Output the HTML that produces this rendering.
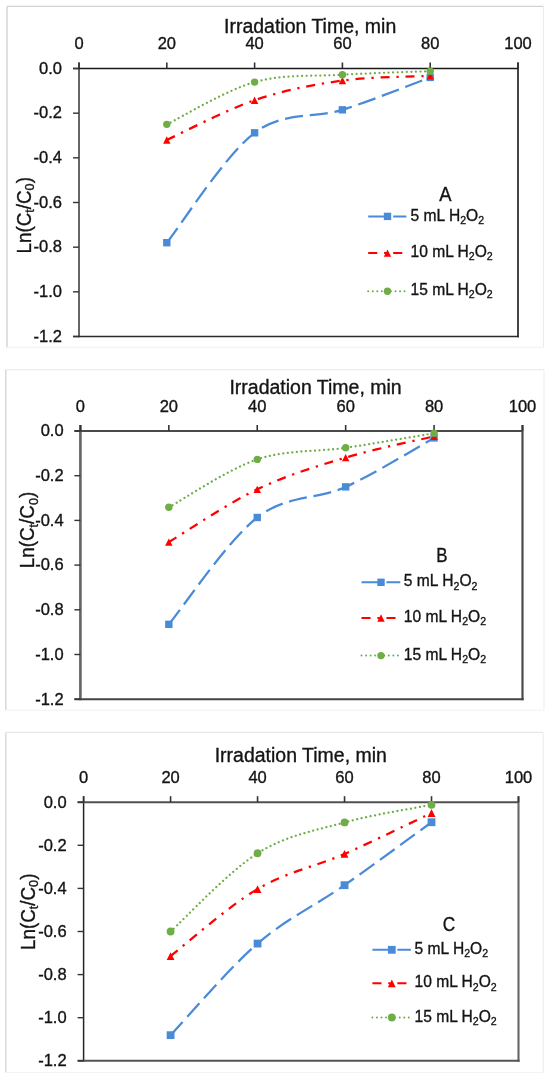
<!DOCTYPE html>
<html><head><meta charset="utf-8"><title>Irradiation time plots</title>
<style>
html,body{margin:0;padding:0;background:#fff;}
body{width:550px;height:1082px;overflow:hidden;}
svg{display:block;}
text{font-family:"Liberation Sans", Arial, sans-serif;fill:#141414;stroke:#141414;stroke-width:0.35px;}
</style></head><body>
<svg width="550" height="1082" viewBox="0 0 550 1082">
<rect width="550" height="1082" fill="#fff"/>
<line x1="7.00" y1="6.40" x2="543.50" y2="6.40" stroke="#d2d2d2" stroke-width="1.1"/>
<line x1="7.00" y1="6.40" x2="7.00" y2="347.40" stroke="#cfcfcf" stroke-width="1.3"/>
<line x1="543.50" y1="6.40" x2="543.50" y2="347.40" stroke="#ececec" stroke-width="1.1"/>
<line x1="7.00" y1="347.40" x2="543.50" y2="347.40" stroke="#f2f2f2" stroke-width="1.1"/>
<line x1="79.00" y1="62.50" x2="79.00" y2="337.30" stroke="#666" stroke-width="2.00"/>
<line x1="518.00" y1="62.50" x2="518.00" y2="337.30" stroke="#444" stroke-width="2.00"/>
<line x1="73.00" y1="336.50" x2="519.00" y2="336.50" stroke="#2a2a2a" stroke-width="1.60"/>
<line x1="73.00" y1="68.50" x2="518.00" y2="68.50" stroke="#1a1a1a" stroke-width="1.30"/>
<line x1="79.00" y1="62.50" x2="79.00" y2="68.50" stroke="#333" stroke-width="1.6"/>
<line x1="166.80" y1="62.50" x2="166.80" y2="68.50" stroke="#333" stroke-width="1.6"/>
<line x1="254.60" y1="62.50" x2="254.60" y2="68.50" stroke="#333" stroke-width="1.6"/>
<line x1="342.40" y1="62.50" x2="342.40" y2="68.50" stroke="#333" stroke-width="1.6"/>
<line x1="430.20" y1="62.50" x2="430.20" y2="68.50" stroke="#333" stroke-width="1.6"/>
<line x1="518.00" y1="62.50" x2="518.00" y2="68.50" stroke="#333" stroke-width="1.6"/>
<line x1="73.00" y1="68.50" x2="79.00" y2="68.50" stroke="#333" stroke-width="1.4"/>
<line x1="73.00" y1="113.17" x2="79.00" y2="113.17" stroke="#333" stroke-width="1.4"/>
<line x1="73.00" y1="157.83" x2="79.00" y2="157.83" stroke="#333" stroke-width="1.4"/>
<line x1="73.00" y1="202.50" x2="79.00" y2="202.50" stroke="#333" stroke-width="1.4"/>
<line x1="73.00" y1="247.17" x2="79.00" y2="247.17" stroke="#333" stroke-width="1.4"/>
<line x1="73.00" y1="291.83" x2="79.00" y2="291.83" stroke="#333" stroke-width="1.4"/>
<line x1="73.00" y1="336.50" x2="79.00" y2="336.50" stroke="#333" stroke-width="1.4"/>
<text transform="translate(79.00,48.70)" font-size="16.50" text-anchor="middle">0</text>
<text transform="translate(166.80,48.70)" font-size="16.50" text-anchor="middle">20</text>
<text transform="translate(254.60,48.70)" font-size="16.50" text-anchor="middle">40</text>
<text transform="translate(342.40,48.70)" font-size="16.50" text-anchor="middle">60</text>
<text transform="translate(430.20,48.70)" font-size="16.50" text-anchor="middle">80</text>
<text transform="translate(518.00,48.70)" font-size="16.50" text-anchor="middle">100</text>
<text transform="translate(62.00,73.80)" font-size="16.50" text-anchor="end">0.0</text>
<text transform="translate(62.00,118.47)" font-size="16.50" text-anchor="end">-0.2</text>
<text transform="translate(62.00,163.13)" font-size="16.50" text-anchor="end">-0.4</text>
<text transform="translate(62.00,207.80)" font-size="16.50" text-anchor="end">-0.6</text>
<text transform="translate(62.00,252.47)" font-size="16.50" text-anchor="end">-0.8</text>
<text transform="translate(62.00,297.13)" font-size="16.50" text-anchor="end">-1.0</text>
<text transform="translate(62.00,341.80)" font-size="16.50" text-anchor="end">-1.2</text>
<text transform="translate(224.00,32.60) scale(0.9850,1)" font-size="19.80">Irradation Time, min</text>
<text transform="translate(30.60,253.50) rotate(-90) scale(0.9500,1)" font-size="19.80">Ln(C<tspan font-size="13.46" dy="3.10">t</tspan><tspan dy="-3.10">/C</tspan><tspan font-size="13.46" dy="3.10">0</tspan><tspan dy="-3.10">)</tspan></text>
<path d="M166.80,242.70 C181.43,224.39 225.33,154.97 254.60,132.82 C283.87,110.67 313.13,119.05 342.40,109.82 C371.67,100.59 415.57,82.83 430.20,77.43" fill="none" stroke="#4a8bd8" stroke-width="2.27" stroke-dasharray="18.16 6.81" stroke-linecap="butt"/>
<rect x="163.10" y="239.00" width="7.40" height="7.40" fill="#4a8bd8"/>
<rect x="250.90" y="129.12" width="7.40" height="7.40" fill="#4a8bd8"/>
<rect x="338.70" y="106.12" width="7.40" height="7.40" fill="#4a8bd8"/>
<rect x="426.50" y="73.73" width="7.40" height="7.40" fill="#4a8bd8"/>
<path d="M166.80,139.97 C181.43,133.34 225.33,110.11 254.60,100.21 C283.87,90.31 313.13,84.62 342.40,80.56 C371.67,76.50 415.57,76.65 430.20,75.87" fill="none" stroke="#ff0000" stroke-width="2.27" stroke-dasharray="9.08 6.81 2.27 6.81" stroke-linecap="butt"/>
<path d="M166.80,136.27 L170.50,143.67 L163.10,143.67 Z" fill="#ff0000"/>
<path d="M254.60,96.51 L258.30,103.91 L250.90,103.91 Z" fill="#ff0000"/>
<path d="M342.40,76.86 L346.10,84.26 L338.70,84.26 Z" fill="#ff0000"/>
<path d="M430.20,72.17 L433.90,79.57 L426.50,79.57 Z" fill="#ff0000"/>
<path d="M166.80,124.33 C181.43,117.30 225.33,90.39 254.60,82.12 C283.87,73.86 313.13,76.58 342.40,74.75 C371.67,72.93 415.57,71.78 430.20,71.18" fill="none" stroke="#6fad47" stroke-width="2.27" stroke-dasharray="0.01 4.54" stroke-linecap="round"/>
<circle cx="166.80" cy="124.33" r="3.70" fill="#6fad47"/>
<circle cx="254.60" cy="82.12" r="3.70" fill="#6fad47"/>
<circle cx="342.40" cy="74.75" r="3.70" fill="#6fad47"/>
<circle cx="430.20" cy="71.18" r="3.70" fill="#6fad47"/>
<line x1="368.20" y1="216.40" x2="406.40" y2="216.40" stroke="#4a8bd8" stroke-width="2.00" stroke-dasharray="18.16 6.81" stroke-linecap="butt"/>
<rect x="383.80" y="212.70" width="7.40" height="7.40" fill="#4a8bd8"/>
<text transform="translate(410.50,220.50) scale(0.9450,1)" font-size="16.50">5 mL H<tspan font-size="11.22" dy="3.10">2</tspan><tspan dy="-3.10">O</tspan><tspan font-size="11.22" dy="3.10">2</tspan></text>
<line x1="368.20" y1="253.10" x2="406.40" y2="253.10" stroke="#ff0000" stroke-width="2.00" stroke-dasharray="9.08 6.81 2.27 6.81" stroke-linecap="butt"/>
<path d="M387.50,249.40 L391.20,256.80 L383.80,256.80 Z" fill="#ff0000"/>
<text transform="translate(410.50,257.20) scale(0.9450,1)" font-size="16.50">10 mL H<tspan font-size="11.22" dy="3.10">2</tspan><tspan dy="-3.10">O</tspan><tspan font-size="11.22" dy="3.10">2</tspan></text>
<line x1="368.20" y1="291.20" x2="406.40" y2="291.20" stroke="#6fad47" stroke-width="2.00" stroke-dasharray="0.01 4.54" stroke-linecap="round"/>
<circle cx="387.50" cy="291.20" r="3.70" fill="#6fad47"/>
<text transform="translate(410.50,295.30) scale(0.9450,1)" font-size="16.50">15 mL H<tspan font-size="11.22" dy="3.10">2</tspan><tspan dy="-3.10">O</tspan><tspan font-size="11.22" dy="3.10">2</tspan></text>
<text transform="translate(439.30,200.60) scale(0.9300,1)" font-size="19.80">A</text>
<line x1="5.80" y1="369.80" x2="544.00" y2="369.80" stroke="#e6e6e6" stroke-width="1.1"/>
<line x1="5.80" y1="369.80" x2="5.80" y2="710.30" stroke="#d2d2d2" stroke-width="1.3"/>
<line x1="544.00" y1="369.80" x2="544.00" y2="710.30" stroke="#eeeeee" stroke-width="1.1"/>
<line x1="5.80" y1="710.30" x2="544.00" y2="710.30" stroke="#f3f3f3" stroke-width="1.1"/>
<line x1="80.40" y1="425.00" x2="80.40" y2="700.15" stroke="#646464" stroke-width="2.60"/>
<line x1="522.50" y1="425.00" x2="522.50" y2="700.15" stroke="#4a4a4a" stroke-width="2.20"/>
<line x1="74.40" y1="699.20" x2="523.60" y2="699.20" stroke="#444" stroke-width="1.90"/>
<line x1="74.40" y1="431.00" x2="522.50" y2="431.00" stroke="#4a4a4a" stroke-width="2.00"/>
<line x1="80.40" y1="425.00" x2="80.40" y2="431.00" stroke="#333" stroke-width="1.6"/>
<line x1="168.82" y1="425.00" x2="168.82" y2="431.00" stroke="#333" stroke-width="1.6"/>
<line x1="257.24" y1="425.00" x2="257.24" y2="431.00" stroke="#333" stroke-width="1.6"/>
<line x1="345.66" y1="425.00" x2="345.66" y2="431.00" stroke="#333" stroke-width="1.6"/>
<line x1="434.08" y1="425.00" x2="434.08" y2="431.00" stroke="#333" stroke-width="1.6"/>
<line x1="522.50" y1="425.00" x2="522.50" y2="431.00" stroke="#333" stroke-width="1.6"/>
<line x1="74.40" y1="431.00" x2="80.40" y2="431.00" stroke="#333" stroke-width="1.4"/>
<line x1="74.40" y1="475.70" x2="80.40" y2="475.70" stroke="#333" stroke-width="1.4"/>
<line x1="74.40" y1="520.40" x2="80.40" y2="520.40" stroke="#333" stroke-width="1.4"/>
<line x1="74.40" y1="565.10" x2="80.40" y2="565.10" stroke="#333" stroke-width="1.4"/>
<line x1="74.40" y1="609.80" x2="80.40" y2="609.80" stroke="#333" stroke-width="1.4"/>
<line x1="74.40" y1="654.50" x2="80.40" y2="654.50" stroke="#333" stroke-width="1.4"/>
<line x1="74.40" y1="699.20" x2="80.40" y2="699.20" stroke="#333" stroke-width="1.4"/>
<text transform="translate(80.40,411.80)" font-size="16.50" text-anchor="middle">0</text>
<text transform="translate(168.82,411.80)" font-size="16.50" text-anchor="middle">20</text>
<text transform="translate(257.24,411.80)" font-size="16.50" text-anchor="middle">40</text>
<text transform="translate(345.66,411.80)" font-size="16.50" text-anchor="middle">60</text>
<text transform="translate(434.08,411.80)" font-size="16.50" text-anchor="middle">80</text>
<text transform="translate(522.50,411.80)" font-size="16.50" text-anchor="middle">100</text>
<text transform="translate(63.60,436.30)" font-size="16.50" text-anchor="end">0.0</text>
<text transform="translate(63.60,481.00)" font-size="16.50" text-anchor="end">-0.2</text>
<text transform="translate(63.60,525.70)" font-size="16.50" text-anchor="end">-0.4</text>
<text transform="translate(63.60,570.40)" font-size="16.50" text-anchor="end">-0.6</text>
<text transform="translate(63.60,615.10)" font-size="16.50" text-anchor="end">-0.8</text>
<text transform="translate(63.60,659.80)" font-size="16.50" text-anchor="end">-1.0</text>
<text transform="translate(63.60,704.50)" font-size="16.50" text-anchor="end">-1.2</text>
<text transform="translate(229.40,393.60) scale(0.9850,1)" font-size="19.80">Irradation Time, min</text>
<text transform="translate(34.40,568.20) rotate(-90) scale(0.9500,1)" font-size="19.80">Ln(C<tspan font-size="13.46" dy="3.10">t</tspan><tspan dy="-3.10">/C</tspan><tspan font-size="13.46" dy="3.10">0</tspan><tspan dy="-3.10">)</tspan></text>
<path d="M168.82,624.33 C183.56,606.52 227.77,540.40 257.24,517.49 C286.71,494.59 316.19,500.14 345.66,486.88 C375.13,473.61 419.34,446.09 434.08,437.93" fill="none" stroke="#4a8bd8" stroke-width="2.27" stroke-dasharray="18.16 6.81" stroke-linecap="butt"/>
<rect x="165.12" y="620.63" width="7.40" height="7.40" fill="#4a8bd8"/>
<rect x="253.54" y="513.79" width="7.40" height="7.40" fill="#4a8bd8"/>
<rect x="341.96" y="483.18" width="7.40" height="7.40" fill="#4a8bd8"/>
<rect x="430.38" y="434.23" width="7.40" height="7.40" fill="#4a8bd8"/>
<path d="M168.82,542.08 C183.56,533.29 227.77,503.41 257.24,489.33 C286.71,475.25 316.19,466.42 345.66,457.60 C375.13,448.77 419.34,439.90 434.08,436.36" fill="none" stroke="#ff0000" stroke-width="2.27" stroke-dasharray="9.08 6.81 2.27 6.81" stroke-linecap="butt"/>
<path d="M168.82,538.38 L172.52,545.78 L165.12,545.78 Z" fill="#ff0000"/>
<path d="M257.24,485.63 L260.94,493.03 L253.54,493.03 Z" fill="#ff0000"/>
<path d="M345.66,453.90 L349.36,461.30 L341.96,461.30 Z" fill="#ff0000"/>
<path d="M434.08,432.66 L437.78,440.06 L430.38,440.06 Z" fill="#ff0000"/>
<path d="M168.82,507.21 C183.56,499.24 227.77,469.29 257.24,459.38 C286.71,449.48 316.19,452.12 345.66,447.76 C375.13,443.40 419.34,435.66 434.08,433.24" fill="none" stroke="#6fad47" stroke-width="2.27" stroke-dasharray="0.01 4.54" stroke-linecap="round"/>
<circle cx="168.82" cy="507.21" r="3.70" fill="#6fad47"/>
<circle cx="257.24" cy="459.38" r="3.70" fill="#6fad47"/>
<circle cx="345.66" cy="447.76" r="3.70" fill="#6fad47"/>
<circle cx="434.08" cy="433.24" r="3.70" fill="#6fad47"/>
<line x1="361.50" y1="582.30" x2="400.30" y2="582.30" stroke="#4a8bd8" stroke-width="2.00" stroke-dasharray="18.16 6.81" stroke-linecap="butt"/>
<rect x="377.30" y="578.60" width="7.40" height="7.40" fill="#4a8bd8"/>
<text transform="translate(403.80,586.40) scale(0.9450,1)" font-size="16.50">5 mL H<tspan font-size="11.22" dy="3.10">2</tspan><tspan dy="-3.10">O</tspan><tspan font-size="11.22" dy="3.10">2</tspan></text>
<line x1="361.50" y1="618.00" x2="400.30" y2="618.00" stroke="#ff0000" stroke-width="2.00" stroke-dasharray="9.08 6.81 2.27 6.81" stroke-linecap="butt"/>
<path d="M381.00,614.30 L384.70,621.70 L377.30,621.70 Z" fill="#ff0000"/>
<text transform="translate(403.80,622.10) scale(0.9450,1)" font-size="16.50">10 mL H<tspan font-size="11.22" dy="3.10">2</tspan><tspan dy="-3.10">O</tspan><tspan font-size="11.22" dy="3.10">2</tspan></text>
<line x1="361.50" y1="655.60" x2="400.30" y2="655.60" stroke="#6fad47" stroke-width="2.00" stroke-dasharray="0.01 4.54" stroke-linecap="round"/>
<circle cx="381.00" cy="655.60" r="3.70" fill="#6fad47"/>
<text transform="translate(403.80,659.70) scale(0.9450,1)" font-size="16.50">15 mL H<tspan font-size="11.22" dy="3.10">2</tspan><tspan dy="-3.10">O</tspan><tspan font-size="11.22" dy="3.10">2</tspan></text>
<text transform="translate(436.20,562.00) scale(0.8500,1)" font-size="19.80">B</text>
<line x1="5.80" y1="732.40" x2="543.20" y2="732.40" stroke="#e8e8e8" stroke-width="1.1"/>
<line x1="5.80" y1="732.40" x2="5.80" y2="1072.50" stroke="#d6d6d6" stroke-width="1.3"/>
<line x1="543.20" y1="732.40" x2="543.20" y2="1072.50" stroke="#ececec" stroke-width="1.1"/>
<line x1="5.80" y1="1072.50" x2="543.20" y2="1072.50" stroke="#f3f3f3" stroke-width="1.1"/>
<line x1="83.60" y1="796.20" x2="83.60" y2="1061.80" stroke="#252525" stroke-width="1.50"/>
<line x1="518.50" y1="796.20" x2="518.50" y2="1061.80" stroke="#666" stroke-width="2.10"/>
<line x1="77.60" y1="1060.80" x2="519.55" y2="1060.80" stroke="#555" stroke-width="2.00"/>
<line x1="77.60" y1="802.20" x2="518.50" y2="802.20" stroke="#505050" stroke-width="2.00"/>
<line x1="83.60" y1="796.20" x2="83.60" y2="802.20" stroke="#333" stroke-width="1.6"/>
<line x1="170.58" y1="796.20" x2="170.58" y2="802.20" stroke="#333" stroke-width="1.6"/>
<line x1="257.56" y1="796.20" x2="257.56" y2="802.20" stroke="#333" stroke-width="1.6"/>
<line x1="344.54" y1="796.20" x2="344.54" y2="802.20" stroke="#333" stroke-width="1.6"/>
<line x1="431.52" y1="796.20" x2="431.52" y2="802.20" stroke="#333" stroke-width="1.6"/>
<line x1="518.50" y1="796.20" x2="518.50" y2="802.20" stroke="#333" stroke-width="1.6"/>
<line x1="77.60" y1="802.20" x2="83.60" y2="802.20" stroke="#333" stroke-width="1.4"/>
<line x1="77.60" y1="845.30" x2="83.60" y2="845.30" stroke="#333" stroke-width="1.4"/>
<line x1="77.60" y1="888.40" x2="83.60" y2="888.40" stroke="#333" stroke-width="1.4"/>
<line x1="77.60" y1="931.50" x2="83.60" y2="931.50" stroke="#333" stroke-width="1.4"/>
<line x1="77.60" y1="974.60" x2="83.60" y2="974.60" stroke="#333" stroke-width="1.4"/>
<line x1="77.60" y1="1017.70" x2="83.60" y2="1017.70" stroke="#333" stroke-width="1.4"/>
<line x1="77.60" y1="1060.80" x2="83.60" y2="1060.80" stroke="#333" stroke-width="1.4"/>
<text transform="translate(83.60,782.70)" font-size="16.50" text-anchor="middle">0</text>
<text transform="translate(170.58,782.70)" font-size="16.50" text-anchor="middle">20</text>
<text transform="translate(257.56,782.70)" font-size="16.50" text-anchor="middle">40</text>
<text transform="translate(344.54,782.70)" font-size="16.50" text-anchor="middle">60</text>
<text transform="translate(431.52,782.70)" font-size="16.50" text-anchor="middle">80</text>
<text transform="translate(518.50,782.70)" font-size="16.50" text-anchor="middle">100</text>
<text transform="translate(66.60,807.70)" font-size="16.50" text-anchor="end">0.0</text>
<text transform="translate(66.60,850.80)" font-size="16.50" text-anchor="end">-0.2</text>
<text transform="translate(66.60,893.90)" font-size="16.50" text-anchor="end">-0.4</text>
<text transform="translate(66.60,937.00)" font-size="16.50" text-anchor="end">-0.6</text>
<text transform="translate(66.60,980.10)" font-size="16.50" text-anchor="end">-0.8</text>
<text transform="translate(66.60,1023.20)" font-size="16.50" text-anchor="end">-1.0</text>
<text transform="translate(66.60,1066.30)" font-size="16.50" text-anchor="end">-1.2</text>
<text transform="translate(214.70,761.70) scale(0.9850,1)" font-size="19.80">Irradation Time, min</text>
<text transform="translate(34.90,950.00) rotate(-90) scale(0.9500,1)" font-size="19.80">Ln(C<tspan font-size="13.46" dy="3.10">t</tspan><tspan dy="-3.10">/C</tspan><tspan font-size="13.46" dy="3.10">0</tspan><tspan dy="-3.10">)</tspan></text>
<path d="M170.58,1035.16 C185.08,1019.89 228.57,968.57 257.56,943.57 C286.55,918.57 315.55,905.39 344.54,885.17 C373.53,864.95 417.02,832.73 431.52,822.24" fill="none" stroke="#4a8bd8" stroke-width="2.27" stroke-dasharray="18.16 6.81" stroke-linecap="butt"/>
<rect x="166.68" y="1031.26" width="7.80" height="7.80" fill="#4a8bd8"/>
<rect x="253.66" y="939.67" width="7.80" height="7.80" fill="#4a8bd8"/>
<rect x="340.64" y="881.27" width="7.80" height="7.80" fill="#4a8bd8"/>
<rect x="427.62" y="818.34" width="7.80" height="7.80" fill="#4a8bd8"/>
<path d="M170.58,956.07 C185.08,944.90 228.57,906.07 257.56,889.05 C286.55,872.02 315.55,866.60 344.54,853.92 C373.53,841.24 417.02,819.80 431.52,812.98" fill="none" stroke="#ff0000" stroke-width="2.27" stroke-dasharray="9.08 6.81 2.27 6.81" stroke-linecap="butt"/>
<path d="M170.58,952.17 L174.48,959.97 L166.68,959.97 Z" fill="#ff0000"/>
<path d="M257.56,885.15 L261.46,892.95 L253.66,892.95 Z" fill="#ff0000"/>
<path d="M344.54,850.02 L348.44,857.82 L340.64,857.82 Z" fill="#ff0000"/>
<path d="M431.52,809.08 L435.42,816.88 L427.62,816.88 Z" fill="#ff0000"/>
<path d="M170.58,931.50 C185.08,918.46 228.57,871.45 257.56,853.27 C286.55,835.10 315.55,830.54 344.54,822.46 C373.53,814.38 417.02,807.73 431.52,804.79" fill="none" stroke="#6fad47" stroke-width="2.27" stroke-dasharray="0.01 4.54" stroke-linecap="round"/>
<circle cx="170.58" cy="931.50" r="3.90" fill="#6fad47"/>
<circle cx="257.56" cy="853.27" r="3.90" fill="#6fad47"/>
<circle cx="344.54" cy="822.46" r="3.90" fill="#6fad47"/>
<circle cx="431.52" cy="804.79" r="3.90" fill="#6fad47"/>
<line x1="372.40" y1="949.80" x2="410.80" y2="949.80" stroke="#4a8bd8" stroke-width="2.00" stroke-dasharray="18.16 6.81" stroke-linecap="butt"/>
<rect x="387.90" y="945.90" width="7.80" height="7.80" fill="#4a8bd8"/>
<text transform="translate(414.50,953.90) scale(0.9450,1)" font-size="16.50">5 mL H<tspan font-size="11.22" dy="3.10">2</tspan><tspan dy="-3.10">O</tspan><tspan font-size="11.22" dy="3.10">2</tspan></text>
<line x1="372.40" y1="983.30" x2="410.80" y2="983.30" stroke="#ff0000" stroke-width="2.00" stroke-dasharray="9.08 6.81 2.27 6.81" stroke-linecap="butt"/>
<path d="M391.80,979.40 L395.70,987.20 L387.90,987.20 Z" fill="#ff0000"/>
<text transform="translate(414.50,987.40) scale(0.9450,1)" font-size="16.50">10 mL H<tspan font-size="11.22" dy="3.10">2</tspan><tspan dy="-3.10">O</tspan><tspan font-size="11.22" dy="3.10">2</tspan></text>
<line x1="372.40" y1="1017.50" x2="410.80" y2="1017.50" stroke="#6fad47" stroke-width="2.00" stroke-dasharray="0.01 4.54" stroke-linecap="round"/>
<circle cx="391.80" cy="1017.50" r="3.90" fill="#6fad47"/>
<text transform="translate(414.50,1021.60) scale(0.9450,1)" font-size="16.50">15 mL H<tspan font-size="11.22" dy="3.10">2</tspan><tspan dy="-3.10">O</tspan><tspan font-size="11.22" dy="3.10">2</tspan></text>
<text transform="translate(442.80,931.00) scale(0.8700,1)" font-size="19.80">C</text>
</svg>
</body></html>
